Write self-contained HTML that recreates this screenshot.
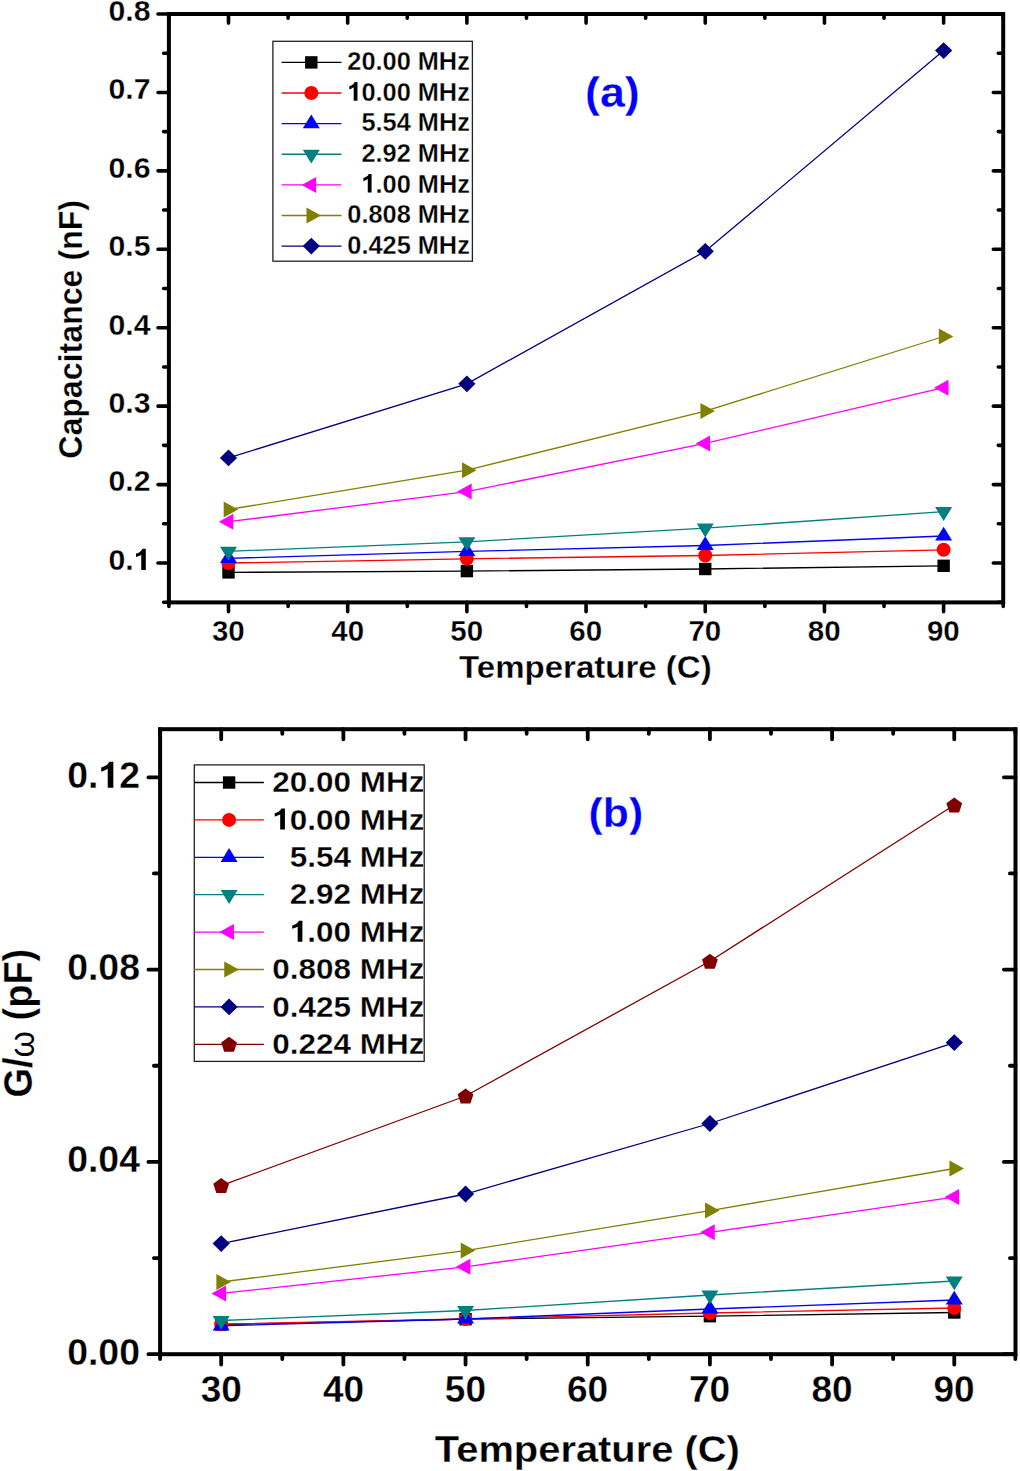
<!DOCTYPE html>
<html><head><meta charset="utf-8"><style>
html,body{margin:0;padding:0;background:#fff;}
svg{display:block;}
text{font-family:"Liberation Sans",sans-serif;font-weight:bold;stroke:#fff;stroke-width:0.3px;}
</style></head><body>
<svg width="1020" height="1471" viewBox="0 0 1020 1471" font-family="Liberation Sans, sans-serif" font-weight="bold">
<rect width="1020" height="1471" fill="#fff"/>
<path d="M228.50,602.40V611.70M228.50,14.00V23.10M347.69,602.40V611.70M347.69,14.00V23.10M466.88,602.40V611.70M466.88,14.00V23.10M586.07,602.40V611.70M586.07,14.00V23.10M705.25,602.40V611.70M705.25,14.00V23.10M824.45,602.40V611.70M824.45,14.00V23.10M943.63,602.40V611.70M943.63,14.00V23.10M168.90,602.40V606.50M168.90,14.00V18.20M288.09,602.40V606.50M288.09,14.00V18.20M407.28,602.40V606.50M407.28,14.00V18.20M526.47,602.40V606.50M526.47,14.00V18.20M645.66,602.40V606.50M645.66,14.00V18.20M764.85,602.40V606.50M764.85,14.00V18.20M884.04,602.40V606.50M884.04,14.00V18.20M1003.23,602.40V606.50M1003.23,14.00V18.20M168.90,563.01H158.00M1003.20,563.01H993.30M168.90,484.58H158.00M1003.20,484.58H993.30M168.90,406.15H158.00M1003.20,406.15H993.30M168.90,327.72H158.00M1003.20,327.72H993.30M168.90,249.29H158.00M1003.20,249.29H993.30M168.90,170.86H158.00M1003.20,170.86H993.30M168.90,92.43H158.00M1003.20,92.43H993.30M168.90,14.00H158.00M1003.20,14.00H993.30M168.90,602.22H163.60M1003.20,602.22H998.30M168.90,523.80H163.60M1003.20,523.80H998.30M168.90,445.37H163.60M1003.20,445.37H998.30M168.90,366.94H163.60M1003.20,366.94H998.30M168.90,288.50H163.60M1003.20,288.50H998.30M168.90,210.07H163.60M1003.20,210.07H998.30M168.90,131.64H163.60M1003.20,131.64H998.30M168.90,53.21H163.60M1003.20,53.21H998.30" stroke="#000" stroke-width="3.6" fill="none" stroke-linecap="round"/>
<rect x="168.90" y="14.00" width="834.30" height="588.40" stroke="#000" stroke-width="4.0" fill="none"/>
<polyline points="228.50,572.40 466.88,571.10 705.25,569.00 943.63,565.80" fill="none" stroke="#000000" stroke-width="1.3"/>
<rect x="222.30" y="566.20" width="12.40" height="12.40" fill="#000000"/>
<rect x="460.68" y="564.90" width="12.40" height="12.40" fill="#000000"/>
<rect x="699.05" y="562.80" width="12.40" height="12.40" fill="#000000"/>
<rect x="937.43" y="559.60" width="12.40" height="12.40" fill="#000000"/>
<polyline points="228.50,563.00 466.88,558.80 705.25,555.50 943.63,549.80" fill="none" stroke="#ff0000" stroke-width="1.3"/>
<circle cx="228.50" cy="563.00" r="7.00" fill="#ff0000"/>
<circle cx="466.88" cy="558.80" r="7.00" fill="#ff0000"/>
<circle cx="705.25" cy="555.50" r="7.00" fill="#ff0000"/>
<circle cx="943.63" cy="549.80" r="7.00" fill="#ff0000"/>
<polyline points="228.50,558.30 466.88,551.40 705.25,545.50 943.63,536.00" fill="none" stroke="#0000ff" stroke-width="1.3"/>
<polygon points="220.00,562.90 237.00,562.90 228.50,549.10" fill="#0000ff"/>
<polygon points="458.38,556.00 475.38,556.00 466.88,542.20" fill="#0000ff"/>
<polygon points="696.75,550.10 713.75,550.10 705.25,536.30" fill="#0000ff"/>
<polygon points="935.13,540.60 952.13,540.60 943.63,526.80" fill="#0000ff"/>
<polyline points="228.50,551.30 466.88,541.80 705.25,528.20 943.63,511.70" fill="none" stroke="#008080" stroke-width="1.3"/>
<polygon points="220.00,546.70 237.00,546.70 228.50,560.50" fill="#008080"/>
<polygon points="458.38,537.20 475.38,537.20 466.88,551.00" fill="#008080"/>
<polygon points="696.75,523.60 713.75,523.60 705.25,537.40" fill="#008080"/>
<polygon points="935.13,507.10 952.13,507.10 943.63,520.90" fill="#008080"/>
<polyline points="228.50,521.70 466.88,491.60 705.25,443.40 943.63,387.70" fill="none" stroke="#ff00ff" stroke-width="1.3"/>
<polygon points="233.33,513.70 233.33,529.70 218.83,521.70" fill="#ff00ff"/>
<polygon points="471.71,483.60 471.71,499.60 457.21,491.60" fill="#ff00ff"/>
<polygon points="710.09,435.40 710.09,451.40 695.59,443.40" fill="#ff00ff"/>
<polygon points="948.47,379.70 948.47,395.70 933.97,387.70" fill="#ff00ff"/>
<polyline points="228.50,509.50 466.88,470.20 705.25,411.10 943.63,336.50" fill="none" stroke="#808000" stroke-width="1.3"/>
<polygon points="223.66,501.50 223.66,517.50 238.16,509.50" fill="#808000"/>
<polygon points="462.04,462.20 462.04,478.20 476.54,470.20" fill="#808000"/>
<polygon points="700.42,403.10 700.42,419.10 714.92,411.10" fill="#808000"/>
<polygon points="938.80,328.50 938.80,344.50 953.30,336.50" fill="#808000"/>
<polyline points="228.50,457.90 466.88,383.80 705.25,251.30 943.63,50.60" fill="none" stroke="#000080" stroke-width="1.3"/>
<polygon points="228.50,449.50 237.09,457.90 228.50,466.30 219.90,457.90" fill="#000080"/>
<polygon points="466.88,375.40 475.48,383.80 466.88,392.20 458.27,383.80" fill="#000080"/>
<polygon points="705.25,242.90 713.86,251.30 705.25,259.70 696.65,251.30" fill="#000080"/>
<polygon points="943.63,42.20 952.24,50.60 943.63,59.00 935.03,50.60" fill="#000080"/>
<text transform="translate(108.44,569.92) scale(1.0300,1)" font-size="29.40" fill="#000">0. </text><path transform="translate(133.69,569.92) scale(30.282,-29.400)" d="M0.40,0 L0.40,0.716 L0.29,0.716 C0.27,0.67 0.23,0.63 0.19,0.605 C0.15,0.58 0.11,0.565 0.076,0.555 L0.076,0.44 C0.14,0.46 0.21,0.49 0.25,0.52 L0.25,0 Z" fill="#000"/>
<text transform="translate(108.44,491.49) scale(1.0300,1)" font-size="29.40" fill="#000">0.2</text>
<text transform="translate(108.44,413.03) scale(1.0300,1)" font-size="29.40" fill="#000">0.3</text>
<text transform="translate(108.44,334.63) scale(1.0300,1)" font-size="29.40" fill="#000">0.4</text>
<text transform="translate(108.44,256.20) scale(1.0300,1)" font-size="29.40" fill="#000">0.5</text>
<text transform="translate(108.44,177.77) scale(1.0300,1)" font-size="29.40" fill="#000">0.6</text>
<text transform="translate(108.44,99.34) scale(1.0300,1)" font-size="29.40" fill="#000">0.7</text>
<text transform="translate(108.44,20.91) scale(1.0300,1)" font-size="29.40" fill="#000">0.8</text>
<text transform="translate(211.96,640.58) scale(1.0000,1)" font-size="29.50" fill="#000">30</text>
<text transform="translate(331.27,640.61) scale(1.0000,1)" font-size="29.50" fill="#000">40</text>
<text transform="translate(450.22,640.61) scale(1.0000,1)" font-size="29.50" fill="#000">50</text>
<text transform="translate(569.32,640.61) scale(1.0000,1)" font-size="29.50" fill="#000">60</text>
<text transform="translate(688.42,640.61) scale(1.0000,1)" font-size="29.50" fill="#000">70</text>
<text transform="translate(807.78,640.61) scale(1.0000,1)" font-size="29.50" fill="#000">80</text>
<text transform="translate(926.92,640.61) scale(1.0000,1)" font-size="29.50" fill="#000">90</text>
<text transform="translate(459.04,678.05) scale(1.0489,1)" font-size="31.51" fill="#000">Temperature (C)</text>
<text transform="translate(82.25,458.82) rotate(-90) scale(0.9896,1)" font-size="32.48" fill="#000">Capacitance (nF)</text>
<text transform="translate(584.96,107.06) scale(1.0431,1)" font-size="42.98" fill="#0000ff">(a)</text>
<rect x="272.9" y="41.3" width="199.5" height="219.9" fill="#fff" stroke="#222" stroke-width="1.3"/>
<line x1="281.6" y1="62.40" x2="341.5" y2="62.40" stroke="#000000" stroke-width="1.3"/>
<rect x="305.10" y="56.20" width="12.40" height="12.40" fill="#000000"/>
<text transform="translate(347.35,70.04) scale(0.9750,1)" font-size="26.00" fill="#000">20.00 MHz</text>
<line x1="281.6" y1="93.02" x2="341.5" y2="93.02" stroke="#ff0000" stroke-width="1.3"/>
<circle cx="311.30" cy="93.02" r="7.00" fill="#ff0000"/>
<text transform="translate(347.35,100.66) scale(0.9750,1)" font-size="26.00" fill="#000"> 0.00 MHz</text><path transform="translate(347.35,100.66) scale(25.350,-26.000)" d="M0.40,0 L0.40,0.716 L0.29,0.716 C0.27,0.67 0.23,0.63 0.19,0.605 C0.15,0.58 0.11,0.565 0.076,0.555 L0.076,0.44 C0.14,0.46 0.21,0.49 0.25,0.52 L0.25,0 Z" fill="#000"/>
<line x1="281.6" y1="123.64" x2="341.5" y2="123.64" stroke="#0000ff" stroke-width="1.3"/>
<polygon points="302.80,128.24 319.80,128.24 311.30,114.44" fill="#0000ff"/>
<text transform="translate(361.44,131.28) scale(0.9750,1)" font-size="26.00" fill="#000">5.54 MHz</text>
<line x1="281.6" y1="154.26" x2="341.5" y2="154.26" stroke="#008080" stroke-width="1.3"/>
<polygon points="302.80,149.66 319.80,149.66 311.30,163.46" fill="#008080"/>
<text transform="translate(361.44,161.90) scale(0.9750,1)" font-size="26.00" fill="#000">2.92 MHz</text>
<line x1="281.6" y1="184.88" x2="341.5" y2="184.88" stroke="#ff00ff" stroke-width="1.3"/>
<polygon points="316.13,176.88 316.13,192.88 301.63,184.88" fill="#ff00ff"/>
<text transform="translate(361.44,192.52) scale(0.9750,1)" font-size="26.00" fill="#000"> .00 MHz</text><path transform="translate(361.44,192.52) scale(25.350,-26.000)" d="M0.40,0 L0.40,0.716 L0.29,0.716 C0.27,0.67 0.23,0.63 0.19,0.605 C0.15,0.58 0.11,0.565 0.076,0.555 L0.076,0.44 C0.14,0.46 0.21,0.49 0.25,0.52 L0.25,0 Z" fill="#000"/>
<line x1="281.6" y1="215.50" x2="341.5" y2="215.50" stroke="#808000" stroke-width="1.3"/>
<polygon points="306.47,207.50 306.47,223.50 320.97,215.50" fill="#808000"/>
<text transform="translate(347.35,223.14) scale(0.9750,1)" font-size="26.00" fill="#000">0.808 MHz</text>
<line x1="281.6" y1="246.12" x2="341.5" y2="246.12" stroke="#000080" stroke-width="1.3"/>
<polygon points="311.30,237.72 319.90,246.12 311.30,254.52 302.70,246.12" fill="#000080"/>
<text transform="translate(347.35,253.76) scale(0.9750,1)" font-size="26.00" fill="#000">0.425 MHz</text>
<path d="M221.19,1354.20V1364.60M221.19,729.20V739.30M343.37,1354.20V1364.60M343.37,729.20V739.30M465.55,1354.20V1364.60M465.55,729.20V739.30M587.73,1354.20V1364.60M587.73,729.20V739.30M709.91,1354.20V1364.60M709.91,729.20V739.30M832.09,1354.20V1364.60M832.09,729.20V739.30M954.27,1354.20V1364.60M954.27,729.20V739.30M160.10,1354.20V1359.10M160.10,729.20V733.80M282.28,1354.20V1359.10M282.28,729.20V733.80M404.46,1354.20V1359.10M404.46,729.20V733.80M526.64,1354.20V1359.10M526.64,729.20V733.80M648.82,1354.20V1359.10M648.82,729.20V733.80M771.00,1354.20V1359.10M771.00,729.20V733.80M893.18,1354.20V1359.10M893.18,729.20V733.80M1015.36,1354.20V1359.10M1015.36,729.20V733.80M160.10,1354.20H148.40M1015.50,1354.20H1003.90M160.10,1161.90H148.40M1015.50,1161.90H1003.90M160.10,969.60H148.40M1015.50,969.60H1003.90M160.10,777.30H148.40M1015.50,777.30H1003.90M160.10,1258.05H153.90M1015.50,1258.05H1009.90M160.10,1065.75H153.90M1015.50,1065.75H1009.90M160.10,873.45H153.90M1015.50,873.45H1009.90" stroke="#000" stroke-width="3.8" fill="none" stroke-linecap="round"/>
<rect x="160.10" y="729.20" width="855.40" height="625.00" stroke="#000" stroke-width="4.0" fill="none"/>
<polyline points="221.19,1324.50 465.55,1319.20 709.91,1316.20 954.27,1312.50" fill="none" stroke="#000000" stroke-width="1.3"/>
<rect x="214.99" y="1318.30" width="12.40" height="12.40" fill="#000000"/>
<rect x="459.35" y="1313.00" width="12.40" height="12.40" fill="#000000"/>
<rect x="703.71" y="1310.00" width="12.40" height="12.40" fill="#000000"/>
<rect x="948.07" y="1306.30" width="12.40" height="12.40" fill="#000000"/>
<polyline points="221.19,1324.20 465.55,1319.00 709.91,1313.00 954.27,1308.00" fill="none" stroke="#ff0000" stroke-width="1.3"/>
<circle cx="221.19" cy="1324.20" r="7.00" fill="#ff0000"/>
<circle cx="465.55" cy="1319.00" r="7.00" fill="#ff0000"/>
<circle cx="709.91" cy="1313.00" r="7.00" fill="#ff0000"/>
<circle cx="954.27" cy="1308.00" r="7.00" fill="#ff0000"/>
<polyline points="221.19,1325.80 465.55,1319.00 709.91,1309.00 954.27,1300.00" fill="none" stroke="#0000ff" stroke-width="1.3"/>
<polygon points="212.69,1330.40 229.69,1330.40 221.19,1316.60" fill="#0000ff"/>
<polygon points="457.05,1323.60 474.05,1323.60 465.55,1309.80" fill="#0000ff"/>
<polygon points="701.41,1313.60 718.41,1313.60 709.91,1299.80" fill="#0000ff"/>
<polygon points="945.77,1304.60 962.77,1304.60 954.27,1290.80" fill="#0000ff"/>
<polyline points="221.19,1320.50 465.55,1310.50 709.91,1295.00 954.27,1281.00" fill="none" stroke="#008080" stroke-width="1.3"/>
<polygon points="212.69,1315.90 229.69,1315.90 221.19,1329.70" fill="#008080"/>
<polygon points="457.05,1305.90 474.05,1305.90 465.55,1319.70" fill="#008080"/>
<polygon points="701.41,1290.40 718.41,1290.40 709.91,1304.20" fill="#008080"/>
<polygon points="945.77,1276.40 962.77,1276.40 954.27,1290.20" fill="#008080"/>
<polyline points="221.19,1293.40 465.55,1266.80 709.91,1232.30 954.27,1197.10" fill="none" stroke="#ff00ff" stroke-width="1.3"/>
<polygon points="226.02,1285.40 226.02,1301.40 211.52,1293.40" fill="#ff00ff"/>
<polygon points="470.38,1258.80 470.38,1274.80 455.88,1266.80" fill="#ff00ff"/>
<polygon points="714.74,1224.30 714.74,1240.30 700.24,1232.30" fill="#ff00ff"/>
<polygon points="959.10,1189.10 959.10,1205.10 944.60,1197.10" fill="#ff00ff"/>
<polyline points="221.19,1282.00 465.55,1250.60 709.91,1210.60 954.27,1168.50" fill="none" stroke="#808000" stroke-width="1.3"/>
<polygon points="216.36,1274.00 216.36,1290.00 230.86,1282.00" fill="#808000"/>
<polygon points="460.72,1242.60 460.72,1258.60 475.22,1250.60" fill="#808000"/>
<polygon points="705.08,1202.60 705.08,1218.60 719.58,1210.60" fill="#808000"/>
<polygon points="949.44,1160.50 949.44,1176.50 963.94,1168.50" fill="#808000"/>
<polyline points="221.19,1243.60 465.55,1194.00 709.91,1123.50 954.27,1042.60" fill="none" stroke="#000080" stroke-width="1.3"/>
<polygon points="221.19,1235.20 229.79,1243.60 221.19,1252.00 212.59,1243.60" fill="#000080"/>
<polygon points="465.55,1185.60 474.15,1194.00 465.55,1202.40 456.95,1194.00" fill="#000080"/>
<polygon points="709.91,1115.10 718.51,1123.50 709.91,1131.90 701.31,1123.50" fill="#000080"/>
<polygon points="954.27,1034.20 962.87,1042.60 954.27,1051.00 945.67,1042.60" fill="#000080"/>
<polyline points="221.19,1185.60 465.55,1096.00 709.91,961.20 954.27,805.00" fill="none" stroke="#800000" stroke-width="1.3"/>
<polygon points="221.19,1178.10 229.08,1183.84 226.07,1193.11 216.31,1193.11 213.30,1183.84" fill="#800000"/>
<polygon points="465.55,1088.50 473.44,1094.24 470.43,1103.51 460.67,1103.51 457.66,1094.24" fill="#800000"/>
<polygon points="709.91,953.70 717.80,959.44 714.79,968.71 705.03,968.71 702.02,959.44" fill="#800000"/>
<polygon points="954.27,797.50 962.16,803.24 959.15,812.51 949.39,812.51 946.38,803.24" fill="#800000"/>
<text transform="translate(67.20,1364.64) scale(1.0300,1)" font-size="36.30" fill="#000">0.00</text>
<text transform="translate(67.20,1172.34) scale(1.0300,1)" font-size="36.30" fill="#000">0.04</text>
<text transform="translate(67.20,980.04) scale(1.0300,1)" font-size="36.30" fill="#000">0.08</text>
<text transform="translate(67.20,787.74) scale(1.0300,1)" font-size="36.30" fill="#000">0. 2</text><path transform="translate(98.39,787.74) scale(37.389,-36.300)" d="M0.40,0 L0.40,0.716 L0.29,0.716 C0.27,0.67 0.23,0.63 0.19,0.605 C0.15,0.58 0.11,0.565 0.076,0.555 L0.076,0.44 C0.14,0.46 0.21,0.49 0.25,0.52 L0.25,0 Z" fill="#000"/>
<text transform="translate(200.64,1402.10) scale(1.0140,1)" font-size="36.50" fill="#000">30</text>
<text transform="translate(322.97,1402.13) scale(1.0140,1)" font-size="36.50" fill="#000">40</text>
<text transform="translate(444.86,1402.13) scale(1.0140,1)" font-size="36.50" fill="#000">50</text>
<text transform="translate(566.93,1402.13) scale(1.0140,1)" font-size="36.50" fill="#000">60</text>
<text transform="translate(688.99,1402.13) scale(1.0140,1)" font-size="36.50" fill="#000">70</text>
<text transform="translate(811.38,1402.13) scale(1.0140,1)" font-size="36.50" fill="#000">80</text>
<text transform="translate(933.50,1402.13) scale(1.0140,1)" font-size="36.50" fill="#000">90</text>
<text transform="translate(434.86,1461.63) scale(1.0540,1)" font-size="37.83" fill="#000">Temperature (C)</text>
<text transform="translate(588.56,827.04) scale(1.0383,1)" font-size="41.16" fill="#0000ff">(b)</text>
<text transform="translate(32.3,1097.6) rotate(-90) scale(0.95,1)" font-size="40"><tspan>G/</tspan><tspan font-weight="normal" font-size="35.7" dy="1.2" style="stroke:none">ω</tspan><tspan dy="-1.2"> (pF)</tspan></text>
<rect x="194.3" y="764.9" width="229.9" height="296.5" fill="#fff" stroke="#222" stroke-width="1.3"/>
<line x1="194.3" y1="782.50" x2="263.9" y2="782.50" stroke="#000000" stroke-width="1.3"/>
<rect x="222.90" y="776.30" width="12.40" height="12.40" fill="#000000"/>
<text transform="translate(272.33,792.21) scale(1.0700,1)" font-size="29.40" fill="#000">20.00 MHz</text>
<line x1="194.3" y1="819.90" x2="263.9" y2="819.90" stroke="#ff0000" stroke-width="1.3"/>
<circle cx="229.10" cy="819.90" r="7.00" fill="#ff0000"/>
<text transform="translate(272.33,829.61) scale(1.0700,1)" font-size="29.40" fill="#000"> 0.00 MHz</text><path transform="translate(272.33,829.61) scale(31.458,-29.400)" d="M0.40,0 L0.40,0.716 L0.29,0.716 C0.27,0.67 0.23,0.63 0.19,0.605 C0.15,0.58 0.11,0.565 0.076,0.555 L0.076,0.44 C0.14,0.46 0.21,0.49 0.25,0.52 L0.25,0 Z" fill="#000"/>
<line x1="194.3" y1="857.30" x2="263.9" y2="857.30" stroke="#0000ff" stroke-width="1.3"/>
<polygon points="220.60,861.90 237.60,861.90 229.10,848.10" fill="#0000ff"/>
<text transform="translate(289.82,867.01) scale(1.0700,1)" font-size="29.40" fill="#000">5.54 MHz</text>
<line x1="194.3" y1="894.70" x2="263.9" y2="894.70" stroke="#008080" stroke-width="1.3"/>
<polygon points="220.60,890.10 237.60,890.10 229.10,903.90" fill="#008080"/>
<text transform="translate(289.82,904.41) scale(1.0700,1)" font-size="29.40" fill="#000">2.92 MHz</text>
<line x1="194.3" y1="932.10" x2="263.9" y2="932.10" stroke="#ff00ff" stroke-width="1.3"/>
<polygon points="233.93,924.10 233.93,940.10 219.43,932.10" fill="#ff00ff"/>
<text transform="translate(289.82,941.81) scale(1.0700,1)" font-size="29.40" fill="#000"> .00 MHz</text><path transform="translate(289.82,941.81) scale(31.458,-29.400)" d="M0.40,0 L0.40,0.716 L0.29,0.716 C0.27,0.67 0.23,0.63 0.19,0.605 C0.15,0.58 0.11,0.565 0.076,0.555 L0.076,0.44 C0.14,0.46 0.21,0.49 0.25,0.52 L0.25,0 Z" fill="#000"/>
<line x1="194.3" y1="969.50" x2="263.9" y2="969.50" stroke="#808000" stroke-width="1.3"/>
<polygon points="224.27,961.50 224.27,977.50 238.77,969.50" fill="#808000"/>
<text transform="translate(272.33,979.21) scale(1.0700,1)" font-size="29.40" fill="#000">0.808 MHz</text>
<line x1="194.3" y1="1006.90" x2="263.9" y2="1006.90" stroke="#000080" stroke-width="1.3"/>
<polygon points="229.10,998.50 237.70,1006.90 229.10,1015.30 220.50,1006.90" fill="#000080"/>
<text transform="translate(272.33,1016.61) scale(1.0700,1)" font-size="29.40" fill="#000">0.425 MHz</text>
<line x1="194.3" y1="1044.30" x2="263.9" y2="1044.30" stroke="#800000" stroke-width="1.3"/>
<polygon points="229.10,1036.80 236.99,1042.54 233.98,1051.81 224.22,1051.81 221.21,1042.54" fill="#800000"/>
<text transform="translate(272.33,1054.01) scale(1.0700,1)" font-size="29.40" fill="#000">0.224 MHz</text>
</svg>
</body></html>
